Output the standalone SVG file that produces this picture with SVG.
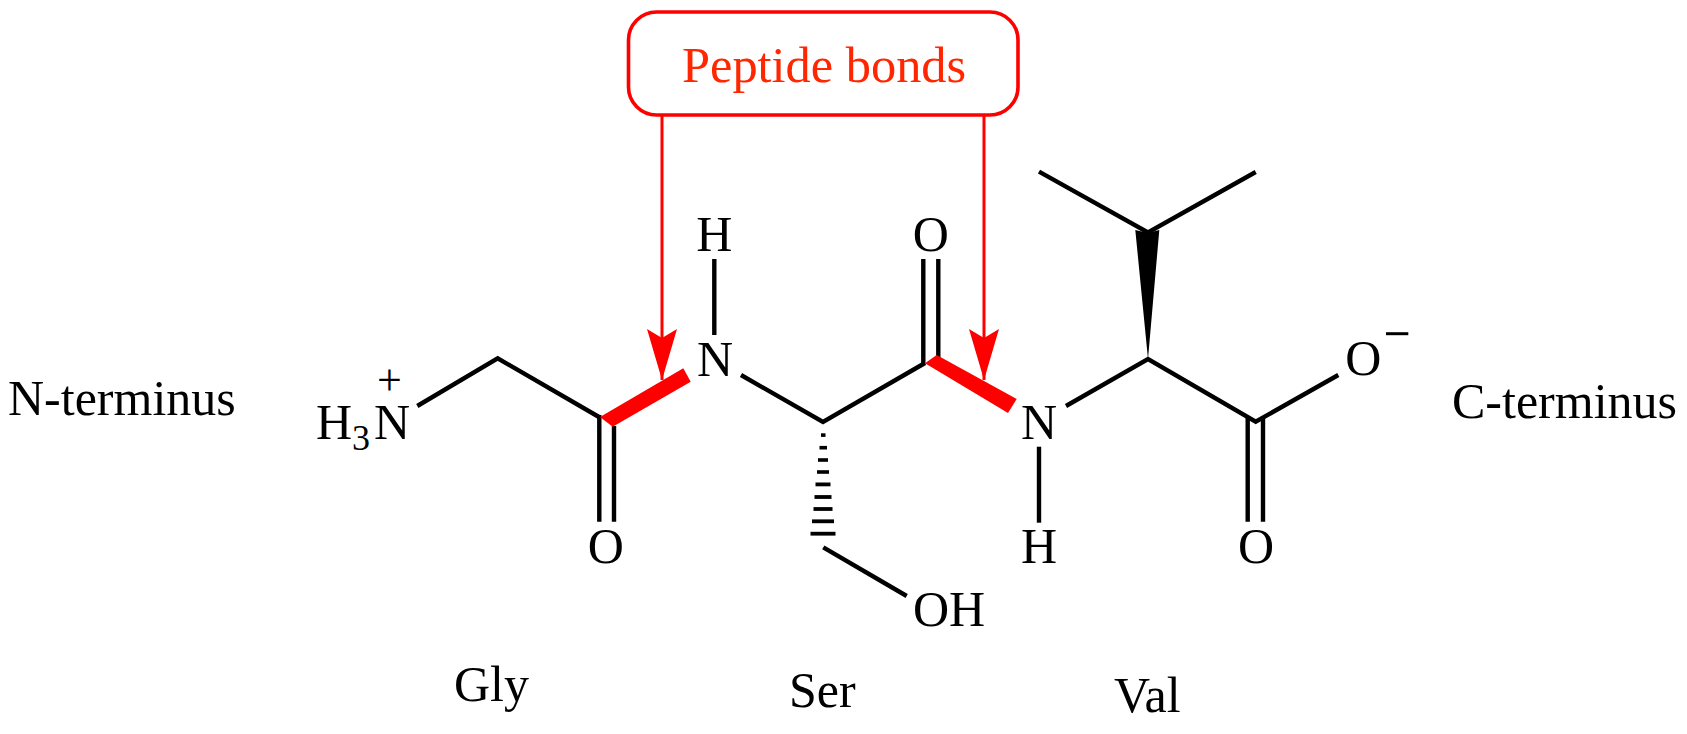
<svg xmlns="http://www.w3.org/2000/svg" width="1687" height="734" viewBox="0 0 1687 734">
<style>
text{font-family:"Liberation Serif","Times New Roman",serif;font-size:50px;fill:#000}
.a{text-anchor:middle}
.b{fill:none;stroke:#000;stroke-width:4.4}
.r{fill:#f00;stroke:none}
.l{fill:none;stroke:#f00;stroke-width:3}
.p{fill:#ff2600;font-size:50.4px}
</style>
<defs>
<marker id="ah" markerUnits="userSpaceOnUse" markerWidth="52" markerHeight="30" refX="51" refY="15" orient="auto" viewBox="0 0 52 30"><path d="M0 0 L9 15 L0 30 L51 15 Z" fill="#f00"/></marker>
</defs>
<rect width="1687" height="734" fill="#fff"/>
<g id="connectors">
<path class="b" d="M417.3 406 L497.7 358.3 L599 417"/>
<path class="b" d="M599.3 415 V521.7 M614 426 V521.7"/>
<polygon class="r" points="600,417 612.7,426.7 690.7,381.7 683.3,368.3"/>
<path class="b" d="M714.3 259 V335"/>
<path class="b" d="M741 375 L823 422 L925 363"/>
<path class="b" d="M923.3 259 V364 M938.3 259 V364"/>
<polygon class="r" points="925,363.3 936.7,355 1016.7,399 1008,413"/>
<g id="hash" fill="#000">
<rect x="821" y="433.3" width="4.5" height="3.6"/>
<rect x="819.5" y="445.9" width="7.5" height="3.6"/>
<rect x="818" y="458.2" width="10" height="3.6"/>
<rect x="817" y="470.2" width="12" height="3.6"/>
<rect x="815.5" y="482.5" width="15" height="3.8"/>
<rect x="814.5" y="495.1" width="17" height="3.8"/>
<rect x="813.5" y="507.1" width="19" height="3.8"/>
<rect x="812" y="519.4" width="22" height="3.8"/>
<rect x="810.5" y="531.8" width="25" height="3.8"/>
</g>
<path class="b" d="M823.3 547.3 L906.7 596"/>
<path class="b" d="M1066 406 L1148 359 L1255.7 421.7 L1338.3 375"/>
<path class="b" d="M1039 446.7 V522.7"/>
<path class="b" d="M1247.7 417 V521.7 M1263 417 V521.7"/>
<polygon points="1148,359 1135.3,230 1148,233 1159.3,230" fill="#000"/>
<path class="b" d="M1039 171.7 L1148 232.5 L1255.7 172"/>
<path class="l" d="M662 116 V380" marker-end="url(#ah)"/>
<path class="l" d="M984 116 V380" marker-end="url(#ah)"/>
</g>
<g id="label-box"><rect x="628.5" y="12" width="389.5" height="103" rx="28" fill="#fff" stroke="#f00" stroke-width="3.6"/><text class="p" x="682" y="82">Peptide bonds</text></g>
<g id="n-terminus"><text x="8" y="415">N-terminus</text></g>
<g id="h3n"><text><tspan x="316" y="439">H</tspan><tspan x="352" y="450" style="font-size:36px">3</tspan><tspan x="374" y="439">N</tspan><tspan x="377" y="395" style="font-size:44px">+</tspan></text></g>
<g id="o1"><text class="a" x="605.7" y="563">O</text></g>
<g id="n1"><text class="a" x="715" y="376">N</text></g>
<g id="h1"><text class="a" x="714.3" y="251">H</text></g>
<g id="o2"><text class="a" x="930.7" y="251">O</text></g>
<g id="oh"><text x="913" y="626">OH</text></g>
<g id="n2"><text class="a" x="1039" y="439">N</text></g>
<g id="h2"><text class="a" x="1039" y="563">H</text></g>
<g id="o3"><text class="a" x="1363.3" y="375">O</text><path d="M1386 333.7 H1408.3" stroke="#000" stroke-width="3"/></g>
<g id="o4"><text class="a" x="1256" y="563">O</text></g>
<g id="c-terminus"><text x="1452" y="418.3">C-terminus</text></g>
<g id="gly"><text x="454" y="700.7">Gly</text></g>
<g id="ser"><text x="789" y="707">Ser</text></g>
<g id="val"><text x="1114" y="712">Val</text></g>
</svg>
